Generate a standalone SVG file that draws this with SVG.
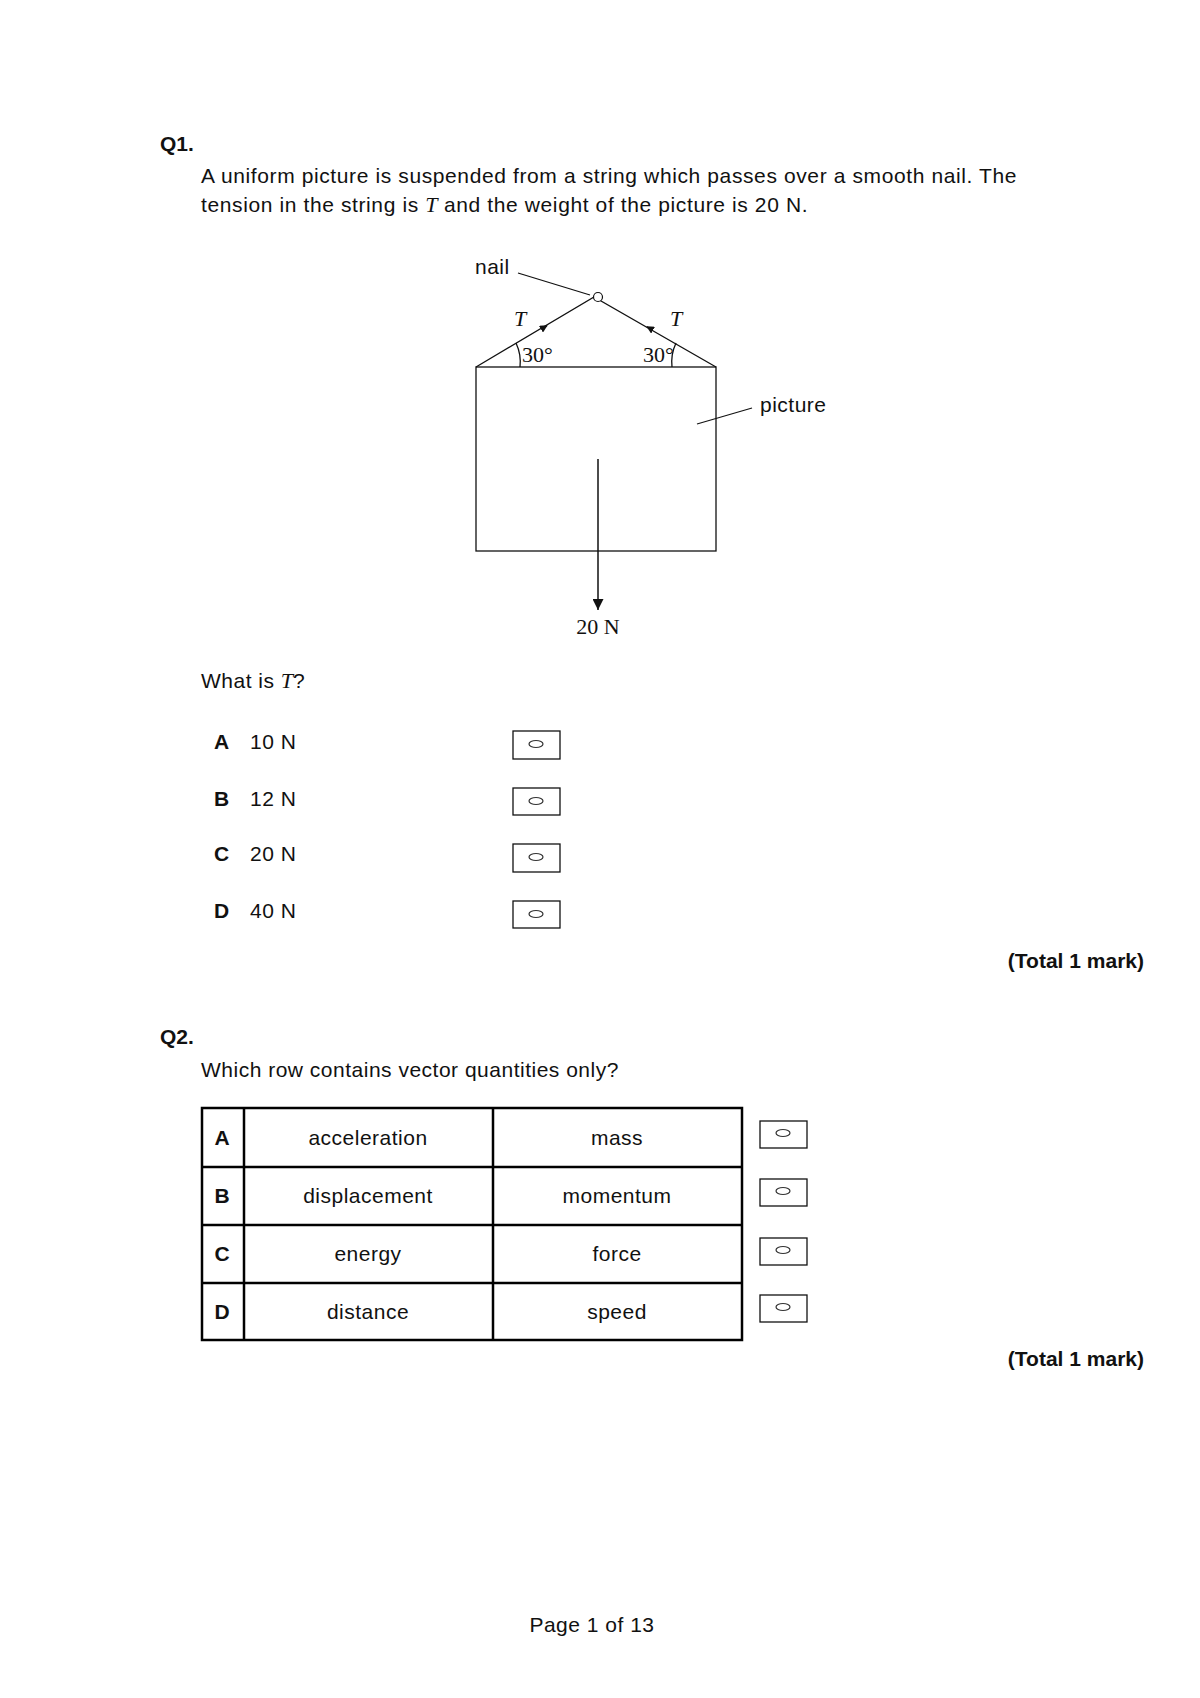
<svg xmlns="http://www.w3.org/2000/svg" width="1200" height="1698" viewBox="0 0 1200 1698">
<style>
.t{font-family:"Liberation Sans",Arial,sans-serif;font-size:21px;letter-spacing:0.5px;fill:#111}
.b{font-weight:bold;letter-spacing:0}
.s{font-family:"Liberation Serif","Times New Roman",serif;font-size:22px;fill:#111;letter-spacing:0}
.ln{stroke:#111;stroke-width:1.3;fill:none}
.box{fill:#fff;stroke:#111;stroke-width:1.3}
.ov{fill:none;stroke:#333;stroke-width:1.2}
.tb{fill:none;stroke:#000;stroke-width:2.5}
</style>
<defs>
<marker id="ah" viewBox="0 0 10 10" refX="9" refY="5" markerWidth="6" markerHeight="6" orient="auto" markerUnits="strokeWidth"><path d="M0,0L10,5L0,10z" fill="#111"/></marker>
<marker id="big" viewBox="0 0 10 10" refX="10" refY="5" markerWidth="11" markerHeight="11" orient="auto" markerUnits="userSpaceOnUse"><path d="M0,0L10,5L0,10z" fill="#111"/></marker>
</defs>
<rect width="1200" height="1698" fill="#fff"/>
<text class="t b" x="160" y="151" font-size="23">Q1.</text>
<text class="t" x="201" y="183" textLength="816">A uniform picture is suspended from a string which passes over a smooth nail. The</text>
<text class="t" x="201" y="212" textLength="607">tension in the string is <tspan class="s" font-style="italic">T</tspan> and the weight of the picture is 20 N.</text>
<g id="diagram">
<rect id="picture" x="476" y="367" width="240" height="184" class="ln"/>
<g id="connectors">
<path class="ln" d="M476,367L594,297L716,367"/>
<path d="M543,328L547,325.6" class="ln" marker-end="url(#ah)"/>
<path d="M651,329L647,326.7" class="ln" marker-end="url(#ah)"/>
<path class="ln" d="M518,273L590,295"/>
<path class="ln" d="M697,424L752,408"/>
<path d="M598,459V610" stroke="#111" stroke-width="1.5" marker-end="url(#big)"/>
<path class="ln" stroke-width="0.9" d="M516,343A45,45 0 0 1 520,367"/>
<path class="ln" stroke-width="0.9" d="M676,343A45,45 0 0 0 672,367"/>
</g>
<circle id="nail" cx="598" cy="297" r="4.5" fill="#fff" stroke="#111" stroke-width="1.2"/>
<text class="t" x="475" y="274" letter-spacing="0">nail</text>
<text class="t" x="760" y="412" letter-spacing="0">picture</text>
<text class="s" font-style="italic" x="514" y="326">T</text>
<text class="s" font-style="italic" x="670" y="326">T</text>
<text class="s" x="522" y="362">30°</text>
<text class="s" x="643" y="362">30°</text>
<text class="s" x="598" y="634" text-anchor="middle">20 N</text>
</g>
<text class="t" x="201" y="688">What is <tspan class="s" font-style="italic">T</tspan>?</text>
<g id="q1opts">
<text class="t b" x="214" y="749">A</text><text class="t" x="250" y="749">10 N</text>
<text class="t b" x="214" y="806">B</text><text class="t" x="250" y="806">12 N</text>
<text class="t b" x="214" y="861">C</text><text class="t" x="250" y="861">20 N</text>
<text class="t b" x="214" y="918">D</text><text class="t" x="250" y="918">40 N</text>
<rect class="box" x="513" y="731" width="47" height="28"/><ellipse class="ov" cx="536" cy="744" rx="7" ry="3.5"/>
<rect class="box" x="513" y="788" width="47" height="27"/><ellipse class="ov" cx="536" cy="801" rx="7" ry="3.5"/>
<rect class="box" x="513" y="844" width="47" height="28"/><ellipse class="ov" cx="536" cy="857" rx="7" ry="3.5"/>
<rect class="box" x="513" y="901" width="47" height="27"/><ellipse class="ov" cx="536" cy="914" rx="7" ry="3.5"/>
</g>
<text class="t b" x="1144" y="968" text-anchor="end" font-size="18">(Total 1 mark)</text>
<text class="t b" x="160" y="1044" font-size="23">Q2.</text>
<text class="t" x="201" y="1077">Which row contains vector quantities only?</text>
<g id="table">
<rect class="tb" x="202" y="1108" width="540" height="232"/>
<path class="tb" d="M244,1108V1340M493,1108V1340M202,1167H742M202,1225H742M202,1283H742"/>
<text class="t b" x="222" y="1145" text-anchor="middle">A</text><text class="t" x="368" y="1145" text-anchor="middle">acceleration</text><text class="t" x="617" y="1145" text-anchor="middle">mass</text>
<text class="t b" x="222" y="1203" text-anchor="middle">B</text><text class="t" x="368" y="1203" text-anchor="middle">displacement</text><text class="t" x="617" y="1203" text-anchor="middle">momentum</text>
<text class="t b" x="222" y="1261" text-anchor="middle">C</text><text class="t" x="368" y="1261" text-anchor="middle">energy</text><text class="t" x="617" y="1261" text-anchor="middle">force</text>
<text class="t b" x="222" y="1319" text-anchor="middle">D</text><text class="t" x="368" y="1319" text-anchor="middle">distance</text><text class="t" x="617" y="1319" text-anchor="middle">speed</text>
</g>
<g id="q2boxes">
<rect class="box" x="760" y="1121" width="47" height="27"/><ellipse class="ov" cx="783" cy="1133" rx="7" ry="3.5"/>
<rect class="box" x="760" y="1179" width="47" height="27"/><ellipse class="ov" cx="783" cy="1191" rx="7" ry="3.5"/>
<rect class="box" x="760" y="1238" width="47" height="27"/><ellipse class="ov" cx="783" cy="1250" rx="7" ry="3.5"/>
<rect class="box" x="760" y="1295" width="47" height="27"/><ellipse class="ov" cx="783" cy="1307" rx="7" ry="3.5"/>
</g>
<text class="t b" x="1144" y="1366" text-anchor="end" font-size="18">(Total 1 mark)</text>
<text class="t" x="592" y="1632" text-anchor="middle">Page 1 of 13</text>
</svg>
